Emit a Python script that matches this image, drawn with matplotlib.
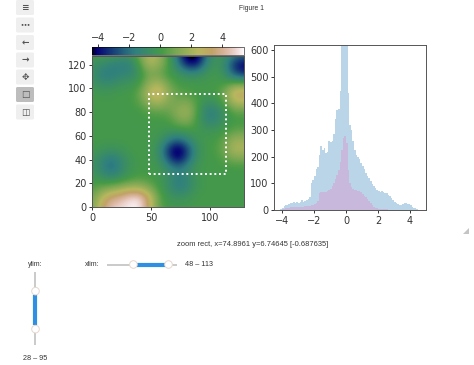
#!/usr/bin/env python3
# Figure 1 screen grab: image with colorbar, histograms, toolbar and range sliders
import numpy as np
import matplotlib
matplotlib.use("Agg")
import matplotlib.pyplot as plt
from matplotlib.patches import Circle, FancyBboxPatch, Polygon, Rectangle

W, H = 474, 365
UI_FONT = "Liberation Sans"
INK = "#333333"

# field values on an 8 unit grid, first row is y=128, first column is x=0
field = [
    [0, 0, -.1, -.4, -.3, .9, 2.5, 2, .2, -2.1, -5, -5, -1.9, -.3, -.5, -1.7, -1.9],
    [-.5, -.9, -1.4, -1.6, -1.6, .2, 2.2, 1.6, .3, -1.7, -3.8, -3.8, -1.4, -.2, -1.3, -3.6, -4.4],
    [-.6, -1.7, -1.8, -1.4, -1.3, -.4, .9, .8, 0, -.4, -1, -1, -.4, 0, -.9, -2.8, -3.4],
    [-.4, -1, -1, -.6, -.4, 0, 1.6, 2.1, .8, .1, 0, 0, 0, 0, .1, .6, .6],
    [0, -.2, -.2, 0, 0, .7, 2.5, 3.4, 1.5, .5, .3, 0, 0, .1, 1.2, 3.3, 3.3],
    [0, 0, 0, 0, 0, .5, 1.6, 2.1, 1.2, .9, 1.2, .3, -.7, -.5, .7, 2.3, 2.3],
    [0, 0, 0, 0, 0, 0, .4, .5, .6, 1.5, 2, .3, -1.6, -1.5, -.4, .6, .5],
    [0, 0, 0, 0, 0, 0, 0, 0, .1, .9, 1.2, .1, -1.3, -1.2, -.3, 0, 0],
    [0, 0, 0, 0, 0, 0, 0, 0, -.3, -.3, -.1, 0, -.3, -.3, .1, .6, .6],
    [0, 0, 0, 0, 0, 0, 0, -.4, -1.6, -2.5, -1.5, -.4, 0, .1, .8, 1.9, 1.7],
    [0, -.4, -.6, -.4, 0, 0, 0, -.8, -3.4, -5, -3.2, -.8, 0, .2, 1.1, 2.3, 2.1],
    [-.4, -1.2, -1.9, -1.2, -.3, 0, 0, -.6, -2.6, -4.2, -2.5, -.6, 0, 0, .5, 1, .9],
    [-.5, -1.3, -2.2, -1.3, -.3, 0, 0, -.1, -1, -1.7, -1.1, -.1, 0, 0, 0, 0, 0],
    [-.1, -.5, -.9, -.5, 0, .3, .1, -.1, -.8, -1.7, -1.3, -.3, 0, 0, 0, 0, 0],
    [.3, .8, 1.2, 1.6, 2.1, 2, 1.2, .1, -.8, -1.7, -1.3, -.3, 0, 0, 0, 0, 0],
    [.8, 2.4, 3.6, 4.1, 4.9, 5, 3, .6, -.3, -.6, -.4, 0, 0, 0, 0, 0, 0],
    [1, 3, 4.6, 4.9, 5.3, 5.3, 3, .6, 0, -.1, 0, 0, 0, 0, 0, 0, 0],
]

# histogram heights, 0.1 wide bins starting at -4.1
all_counts = [
    3, 8, 15, 20, 18, 24, 26, 28, 30, 27, 31, 26, 30, 36, 29, 34, 36, 42, 48,
    100, 112, 128, 155, 162, 205, 238, 225, 232, 212, 218, 258, 255, 258, 285,
    340, 375, 380, 445, 690, 690, 690, 690, 440, 320, 300, 260, 225, 205, 200,
    190, 175, 165, 155, 140, 128, 120, 108, 98, 90, 82, 76, 72, 68, 70, 66, 62,
    64, 58, 54, 44, 36, 30, 28, 24, 18, 20, 22, 25, 28, 24, 22, 18, 12, 9, 6, 3,
]
zoom_counts = [
    1, 3, 5, 7, 8, 9, 10, 11, 10, 12, 11, 12, 12, 13, 12, 14, 14, 15, 16,
    18, 20, 23, 26, 32, 62, 66, 66, 68, 69, 70, 74, 80, 90, 100, 115, 130, 148,
    178, 225, 268, 278, 250, 150, 100, 85, 80, 76, 74, 72, 70, 66, 60, 54, 48,
    42, 34, 26, 19, 13, 8, 6, 4, 3, 3, 2, 2, 2, 1, 1,
]
bin_start, bin_width = -4.1, 0.1

xlim_range = (48, 113)
ylim_range = (28, 95)
data_size = 128
status_text = "zoom rect, x=74.8961 y=6.74645 [-0.687635]"
toolbar_icons = ["≡", "⋯", "←", "→", "✥", "□", "◫"]
toolbar_y = [7.5, 25, 42.5, 60, 77, 94.5, 112]
active_tool = 5


def px_axes(left, top, right, bottom):
    return fig.add_axes([left / W, 1 - bottom / H, (right - left) / W, (bottom - top) / H])


fig = plt.figure(figsize=(W / 100, H / 100), dpi=100)
plt.rcParams["axes.linewidth"] = 0.7

# image panel
ax = px_axes(92, 55.5, 244, 207)
im = ax.imshow(field, cmap="gist_earth", vmin=-4.4, vmax=5.4, origin="upper",
               extent=(-4, 132, -4, 132), interpolation="bicubic", aspect="auto")
ax.set_xlim(0, 128.3)
ax.set_ylim(0, 127.7)
ax.set_xticks([0, 50, 100])
ax.set_yticks([0, 20, 40, 60, 80, 100, 120])
ax.tick_params(labelsize=7, length=2.5, width=0.7, pad=1.5, colors=INK)
ax.add_patch(Rectangle((xlim_range[0], ylim_range[0]), xlim_range[1] - xlim_range[0],
                       ylim_range[1] - ylim_range[0], fill=False, ec="white", lw=1.4, ls=(0, (1, 1.4))))

# colorbar on top of the image
cax = px_axes(92, 47, 244, 55)
cb = fig.colorbar(im, cax=cax, orientation="horizontal", ticks=[-4, -2, 0, 2, 4])
cax.xaxis.set_ticks_position("top")
cax.tick_params(labelsize=7, length=2, width=0.7, pad=1, colors=INK)
cb.outline.set_linewidth(0.4)

# histogram panel
hax = px_axes(274, 44.5, 426, 210)
hax.stairs(all_counts, bin_start + bin_width * np.arange(len(all_counts) + 1),
           fill=True, color="C0", alpha=0.3, lw=0)
hax.stairs(zoom_counts, bin_start + bin_width * np.arange(len(zoom_counts) + 1),
           fill=True, color="C6", alpha=0.3, lw=0)
hax.set_xlim(-4.5, 5)
hax.set_ylim(0, 620)
hax.set_xticks([-4, -2, 0, 2, 4])
hax.set_yticks([0, 100, 200, 300, 400, 500, 600])
hax.tick_params(labelsize=7, length=2.5, width=0.7, pad=1.5, colors=INK)
for a in [ax, hax]:
    for s in a.spines.values():
        s.set_color("#555555")

# page level widgets, drawn in pixel coordinates
ui = fig.add_axes([0, 0, 1, 1], zorder=5)
ui.set_xlim(0, W)
ui.set_ylim(H, 0)
ui.axis("off")

for i, (icon, y) in enumerate(zip(toolbar_icons, toolbar_y)):
    face = "#bdbdbd" if i == active_tool else "#efefef"
    ui.add_patch(FancyBboxPatch((16, y - 7.5), 18, 15, boxstyle="round,pad=0,rounding_size=1.5",
                                fc=face, ec="none"))
    ui.text(25, y, icon, ha="center", va="center", fontsize=6.5, color="#555555",
            fontweight="bold" if i < 5 else "normal", family="DejaVu Sans")

ui.text(252, 8, "Figure 1", ha="center", va="center", fontsize=4.9, color=INK, family=UI_FONT)
ui.text(253, 245, status_text, ha="center", va="center", fontsize=5.4, color=INK, family=UI_FONT)
ui.text(35.5, 264.5, "ylim:", ha="center", va="center", fontsize=5, color=INK, family=UI_FONT)
ui.text(92.5, 264.5, "xlim:", ha="center", va="center", fontsize=5, color=INK, family=UI_FONT)
ui.text(199, 264.5, f"{xlim_range[0]} – {xlim_range[1]}", ha="center", va="center",
        fontsize=5.2, color=INK, family=UI_FONT)
ui.text(35.5, 358, f"{ylim_range[0]} – {ylim_range[1]}", ha="center", va="center",
        fontsize=5.2, color=INK, family=UI_FONT)
ui.add_patch(Polygon([(469, 228), (469, 234), (463, 234)], fc="#c4c4c4", ec="none"))

# horizontal slider
def sx(v):
    return 107.5 + v * 0.54

ui.plot([sx(0), sx(data_size)], [264.5, 264.5], color="#bcbcbc", lw=1.1, solid_capstyle="butt")
ui.plot([sx(xlim_range[0]) + 4, sx(xlim_range[1]) - 4], [264.5, 264.5], color="#2f8fe3", lw=3,
        solid_capstyle="butt", zorder=3)
for v in xlim_range:
    ui.add_patch(Circle((sx(v), 264.5), 3.8, fc="white", ec="#e6d8cc", lw=0.7, zorder=4))

# vertical slider
def sy(v):
    return 345 - v * 0.567

ui.plot([35.5, 35.5], [sy(0), sy(data_size)], color="#bcbcbc", lw=1.1, solid_capstyle="butt")
ui.plot([35.5, 35.5], [sy(ylim_range[0]) - 4, sy(ylim_range[1]) + 4], color="#2f8fe3", lw=3,
        solid_capstyle="butt", zorder=3)
for v in ylim_range:
    ui.add_patch(Circle((35.5, sy(v)), 3.8, fc="white", ec="#e6d8cc", lw=0.7, zorder=4))

fig.savefig("out.png", dpi=100)
